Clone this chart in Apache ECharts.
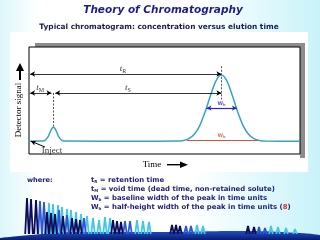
<!DOCTYPE html>
<html>
<head>
<meta charset="utf-8">
<script src="https://cdn.jsdelivr.net/npm/echarts@6/dist/echarts.min.js"></script>
<style>
  html, body { margin: 0; padding: 0; }
  body {
    width: 320px; height: 240px; overflow: hidden;
    background: linear-gradient(90deg, #dcf6fa 0%, #ffffff 12%, #ffffff 60%, #c8f3f9 100%);
  }
  #chart { width: 320px; height: 240px; }
</style>
</head>
<body>
<div id="chart"></div>
<script>
// chromatogram: time (0-100) vs detector signal (0-100)
var signalTimes  = [0, 5, 6, 7, 7.5, 8, 8.5, 9, 9.5, 10, 10.5, 11, 12, 13, 40, 55, 57, 59, 61, 63, 65, 67, 69, 71, 73, 75, 77, 79, 81, 83, 85, 87, 100];
var signalValues = [12, 12.1, 12.9, 16, 18.7, 21.7, 24.1, 25, 24.1, 21.7, 18.7, 16, 12.9, 12.1, 12, 12.1, 12.7, 14.4, 18.4, 26.5, 39.4, 55, 68.4, 73.8, 68.4, 55, 39.4, 26.5, 18.4, 14.4, 12.7, 12.1, 12];

var tM = 9, tR = 71, baseline = 12, peakTop = 73.8, halfHeight = 42.9;
var wh = [65.5, 76.7];
var wb = [58.3, 84.5];

// decorative spikes at the bottom: [x, height]
var spikesNavy = [[27,42],[31,41],[36,40],[47,28],[51,27],[55,26],[63,24],[72,22],[76,21],[80,20],[113,20],[117,19],[121,18],[172,15],[176,15],[180,14],[248,14],[254,13]];
var spikesBlue = [[40,39],[44,38],[59,30],[67,25],[84,22],[125,19],[130,19],[186,14],[191,14],[259,13],[265,12]];
var spikesCyan = [[49,37],[53,36],[58,35],[62,33],[67,31],[71,30],[76,28],[81,26],[87,24],[93,22],[99,20],[105,23],[110,22],[137,20],[143,19],[149,18],[197,15],[203,14],[271,14],[278,13],[286,12],[295,11]];
var ground = [[0,2],[30,5],[80,8],[160,8],[240,9],[300,7],[320,5]];

function spikeLine(tips) {
  var pts = [];
  tips.forEach(function (s) {
    pts.push([s[0] - 1.8, 6], [s[0], s[1]], [s[0] + 1.8, 6], null);
  });
  return pts;
}
function pairs(xs, ys) {
  return xs.map(function (x, i) { return [x, ys[i]]; });
}

var chart = echarts.init(document.getElementById('chart'));
var navy = '#1c1c78';
var f = 'bold 6.9px DejaVu Sans';
var richTxt = {
  b: { font: f, fill: navy },
  s: { font: 'bold 4px DejaVu Sans', fill: navy, verticalAlign: 'bottom' },
  r: { font: f, fill: '#e03030' }
};
function line(x, y, t) {
  return { type: 'text', x: x, y: y, style: { text: t, font: f, fill: navy, verticalAlign: 'middle', rich: richTxt } };
}

chart.setOption({
  animation: false,
  grid: [
    { left: 29, top: 47, width: 271, height: 107, show: true, backgroundColor: '#fff', borderColor: '#000', borderWidth: 1, z: 1 },
    { left: 0, right: 0, top: 193, bottom: 0 }
  ],
  xAxis: [
    { type: 'value', min: 0, max: 100, show: false, gridIndex: 0 },
    { type: 'value', min: 0, max: 320, show: false, gridIndex: 1 }
  ],
  yAxis: [
    { type: 'value', min: 0, max: 100, show: false, gridIndex: 0 },
    { type: 'value', min: 0, max: 47, show: false, gridIndex: 1 }
  ],
  graphic: [
    { type: 'rect', shape: { x: 10, y: 32, width: 298, height: 140 }, style: { fill: '#fff' }, z: -10 },
    { type: 'rect', shape: { x: 35, y: 43, width: 270, height: 4 }, style: { fill: '#8c8c8c' }, z: -5 },
    { type: 'rect', shape: { x: 300, y: 43, width: 5, height: 115 }, style: { fill: '#8c8c8c' }, z: -5 },
    { type: 'text', x: 163, y: 10, style: { text: 'Theory of Chromatography', font: 'italic bold 10.5px DejaVu Sans', fill: '#1c1c8c', align: 'center', verticalAlign: 'middle' } },
    { type: 'text', x: 159, y: 27, style: { text: 'Typical chromatogram: concentration versus elution time', font: 'bold 7.4px DejaVu Sans', fill: '#1a1a4e', align: 'center', verticalAlign: 'middle' } },
    { type: 'text', x: 19, y: 110, rotation: Math.PI / 2, style: { text: 'Detector signal', font: '9px Liberation Serif', fill: '#000', align: 'center', verticalAlign: 'middle' } },
    { type: 'rect', shape: { x: 19, y: 70, width: 2, height: 10 }, style: { fill: '#000' } },
    { type: 'polygon', shape: { points: [[16, 71], [24, 71], [20, 63]] }, style: { fill: '#000' } },
    { type: 'text', x: 152, y: 165, style: { text: 'Time', font: '9px Liberation Serif', fill: '#000', align: 'center', verticalAlign: 'middle' } },
    { type: 'rect', shape: { x: 167, y: 164, width: 15, height: 1.4 }, style: { fill: '#000' } },
    { type: 'polygon', shape: { points: [[180, 161.5], [180, 168], [188, 164.7]] }, style: { fill: '#000' } },
    { type: 'text', x: 27, y: 180, style: { text: 'where:', font: 'bold 6.6px DejaVu Sans', fill: navy, verticalAlign: 'middle' } },
    line(91, 180, '{b|t}{s|R}{b| = retention time}'),
    line(91, 189, '{b|t}{s|M}{b| = void time (dead time, non-retained solute)}'),
    line(91, 198, '{b|W}{s|b}{b| = baseline width of the peak in time units}'),
    line(91, 207, '{b|W}{s|h}{b| = half-height width of the peak in time units (}{r|8}{b|)}')
  ],
  series: [
    {
      type: 'line', xAxisIndex: 0, yAxisIndex: 0, z: 3,
      data: pairs(signalTimes, signalValues),
      smooth: 0.3, showSymbol: false,
      lineStyle: { color: '#36a2cc', width: 1.5 },
      markLine: {
        silent: true, symbol: ['arrow', 'arrow'], symbolSize: [4, 5],
        label: { show: false },
        lineStyle: { color: '#000', width: 0.8, type: 'solid' },
        data: [
          [{ coord: [0.4, 74.8] }, { coord: [tR, 74.8] }],
          [{ coord: [0.4, 57] }, { coord: [8.3, 57] }],
          [{ coord: [9.7, 57] }, { coord: [tR, 57] }],
          [{ coord: [tM, 57], symbol: 'none', lineStyle: { type: [2, 1.5], color: '#555', width: 1 } }, { coord: [tM, 25], symbol: 'none' }],
          [{ coord: [tR, 82], symbol: 'none', lineStyle: { type: [2, 1.5], color: '#555', width: 1 } }, { coord: [tR, 51], symbol: 'none' }],
          [{ coord: [wh[0], halfHeight], lineStyle: { color: '#2828c8', width: 1.2 } }, { coord: [wh[1], halfHeight] }],
          [{ coord: [wb[0], 13], symbol: 'none', lineStyle: { color: '#e0502a', width: 1.2 } }, { coord: [wb[1], 13], symbol: 'none' }],
          [{ coord: [5.9, 6.5], symbol: 'none', lineStyle: { color: '#000', width: 1 } }, { coord: [0.7, 12], symbol: 'arrow' }]
        ]
      }
    },
    {
      type: 'scatter', xAxisIndex: 0, yAxisIndex: 0, symbolSize: 0, z: 4,
      label: {
        show: true, position: 'inside',
        formatter: function (p) { return p.data[2]; },
        rich: {
          i: { fontFamily: 'Liberation Serif', fontStyle: 'italic', fontSize: 9, color: '#000' },
          sub: { fontFamily: 'Liberation Serif', fontSize: 6, color: '#000', verticalAlign: 'bottom', padding: [4, 0, 0, 0] },
          wh: { fontFamily: 'DejaVu Sans', fontWeight: 'bold', fontSize: 5, color: '#2828c8' },
          whs: { fontFamily: 'DejaVu Sans', fontWeight: 'bold', fontSize: 3.5, color: '#2828c8', padding: [3, 0, 0, 0] },
          wb: { fontFamily: 'DejaVu Sans', fontWeight: 'bold', fontSize: 5, color: '#e0502a' },
          wbs: { fontFamily: 'DejaVu Sans', fontWeight: 'bold', fontSize: 3.5, color: '#e0502a', padding: [3, 0, 0, 0] },
          inj: { fontFamily: 'Liberation Serif', fontSize: 9, color: '#000' }
        }
      },
      data: [
        [34.7, 79.4, '{i|t}{sub|R}'],
        [36.5, 61.7, '{i|t}{sub|S}'],
        [4.1, 61.7, '{i|t}{sub|M}'],
        [71, 46.7, '{wh|W}{whs|h}'],
        [71, 16.8, '{wb|W}{wbs|b}'],
        [8.5, 2.8, '{inj|Inject}']
      ]
    },
    {
      type: 'line', xAxisIndex: 1, yAxisIndex: 1, data: ground, smooth: true, showSymbol: false, z: 1,
      lineStyle: { width: 0 },
      areaStyle: { color: new echarts.graphic.LinearGradient(0, 0, 0, 1, [{ offset: 0, color: '#1e50c8' }, { offset: 1, color: '#0a1a70' }]), opacity: 1 }
    },
    { type: 'line', xAxisIndex: 1, yAxisIndex: 1, data: spikeLine(spikesCyan), showSymbol: false, connectNulls: false, lineStyle: { color: '#42c6ea', width: 1.8 } },
    { type: 'line', xAxisIndex: 1, yAxisIndex: 1, data: spikeLine(spikesBlue), showSymbol: false, connectNulls: false, lineStyle: { color: '#2a5ad2', width: 1.8 } },
    { type: 'line', xAxisIndex: 1, yAxisIndex: 1, data: spikeLine(spikesNavy), showSymbol: false, connectNulls: false, lineStyle: { color: '#0c0c5c', width: 1.8 } }
  ]
});
</script>
</body>
</html>
